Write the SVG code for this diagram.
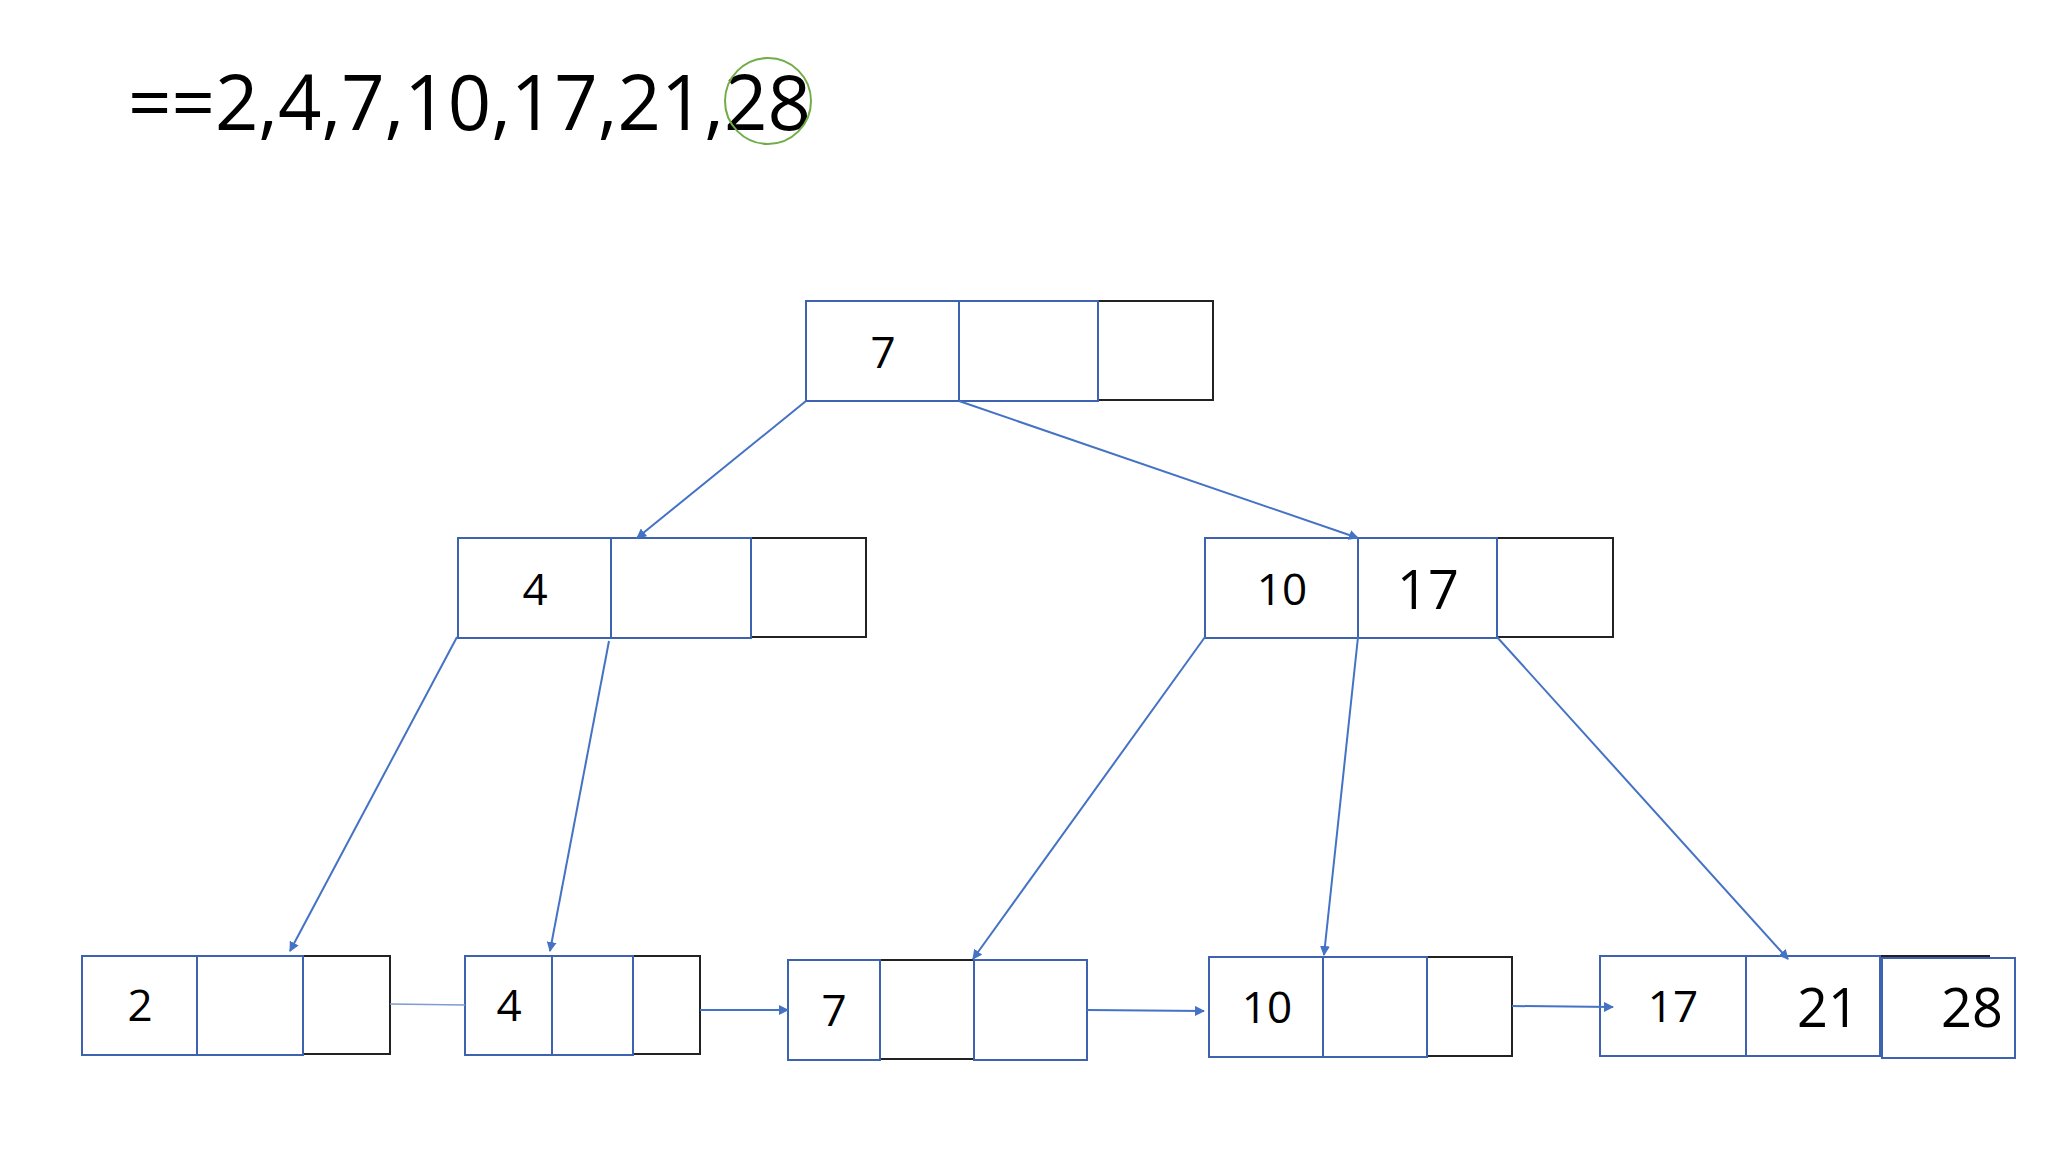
<svg xmlns="http://www.w3.org/2000/svg" width="2048" height="1152" viewBox="0 0 2048 1152">
<style>
.b{fill:none;stroke:#3d63b0;stroke-width:2}
.k{fill:none;stroke:#222;stroke-width:2}
.t{font-family:"Open Sans","Liberation Sans",sans-serif;font-size:44px;fill:#000;text-anchor:middle}
.L{font-size:54px}
.c{stroke:#4472c4;stroke-width:2;fill:none}
</style>
<defs><marker id="a" markerWidth="10" markerHeight="10" refX="9" refY="5" orient="auto" markerUnits="userSpaceOnUse" viewBox="0 0 10 10"><path d="M0,0L10,5L0,10z" fill="#4472c4"/></marker></defs>
<rect width="2048" height="1152" fill="#fff"/>
<text x="128" y="130" style="font-family:'Open Sans','Liberation Sans',sans-serif;font-size:76px">==2,4,7,10,17,21,28</text>
<circle cx="768" cy="101" r="43" fill="none" stroke="#70ad47" stroke-width="2"/>
<g id="root"><rect class="k" x="1098" y="301" width="115" height="99"/><rect class="b" x="806" y="301" width="153" height="100"/><rect class="b" x="959" y="301" width="139" height="100"/><text class="t" x="883" y="368">7</text></g>
<g id="n4"><rect class="k" x="751" y="538" width="115" height="99"/><rect class="b" x="458" y="538" width="153" height="100"/><rect class="b" x="611" y="538" width="140" height="100"/><text class="t" x="535" y="605">4</text></g>
<g id="n1017"><rect class="k" x="1497" y="538" width="116" height="99"/><rect class="b" x="1205" y="538" width="153" height="100"/><rect class="b" x="1358" y="538" width="139" height="100"/><text class="t" x="1282" y="605">10</text><text class="t L" x="1428" y="609">17</text></g>
<g id="l2"><rect class="k" x="303" y="956" width="87" height="98"/><rect class="b" x="82" y="956" width="115" height="99"/><rect class="b" x="197" y="956" width="106" height="99"/><text class="t" x="140" y="1021">2</text></g>
<g id="l4"><rect class="k" x="633" y="956" width="67" height="98"/><rect class="b" x="465" y="956" width="87" height="99"/><rect class="b" x="552" y="956" width="81" height="99"/><text class="t" x="509" y="1021">4</text></g>
<g id="l7"><rect class="k" x="880" y="960" width="94" height="99"/><rect class="b" x="788" y="960" width="92" height="100"/><rect class="b" x="974" y="960" width="113" height="100"/><text class="t" x="834" y="1026">7</text></g>
<g id="l10"><rect class="k" x="1427" y="957" width="85" height="99"/><rect class="b" x="1209" y="957" width="114" height="100"/><rect class="b" x="1323" y="957" width="104" height="100"/><text class="t" x="1267" y="1023">10</text></g>
<g id="l17"><line x1="1880" y1="956" x2="1990" y2="956" stroke="#222" stroke-width="2"/><rect class="b" x="1600" y="956" width="146" height="100"/><rect class="b" x="1746" y="956" width="134" height="100"/><rect class="b" x="1882" y="958" width="133" height="100"/><text class="t" x="1673" y="1022">17</text><text class="t L" x="1828" y="1027">21</text><text class="t L" x="1972" y="1027">28</text></g>
<g id="connectors">
<line class="c" x1="806" y1="401" x2="637" y2="538" marker-end="url(#a)"/>
<line class="c" x1="959" y1="401" x2="1358" y2="538" marker-end="url(#a)"/>
<line class="c" x1="457" y1="637" x2="290" y2="951" marker-end="url(#a)"/>
<line class="c" x1="609" y1="641" x2="550" y2="951" marker-end="url(#a)"/>
<line class="c" x1="1205" y1="637" x2="973" y2="959" marker-end="url(#a)"/>
<line class="c" x1="1358" y1="637" x2="1324" y2="955" marker-end="url(#a)"/>
<line class="c" x1="1497" y1="637" x2="1788" y2="959" marker-end="url(#a)"/>
<line x1="390" y1="1004" x2="465" y2="1005" stroke="#7f9bcf" stroke-width="1.5"/>
<line class="c" x1="700" y1="1010" x2="788" y2="1010" marker-end="url(#a)"/>
<line class="c" x1="1087" y1="1010" x2="1204" y2="1011" marker-end="url(#a)"/>
<line class="c" x1="1512" y1="1006" x2="1613" y2="1007" marker-end="url(#a)"/>
</g>
</svg>
